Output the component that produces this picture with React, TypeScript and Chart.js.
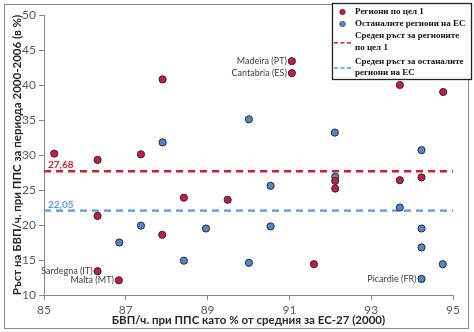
import { useEffect, useRef } from 'react';
import { Chart, registerables } from 'chart.js';

Chart.register(...registerables);

// ---- data ----
const goal1Label = 'Региони по цел 1';
const otherLabel = 'Останалите региони на ЕС';
const goal1MeanLabel = 'Среден ръст за регионите по цел 1';
const otherMeanLabel = 'Среден ръст за останалите региони на ЕС';

const goal1Points = [
  { x: 85.25, y: 30.2 },
  { x: 86.31, y: 29.3 },
  { x: 87.37, y: 30.1 },
  { x: 87.9, y: 40.8 },
  { x: 91.06, y: 43.4 },
  { x: 91.06, y: 41.7 },
  { x: 93.7, y: 40.0 },
  { x: 94.76, y: 39.0 },
  { x: 86.31, y: 21.3 },
  { x: 86.31, y: 13.4 },
  { x: 86.83, y: 12.1 },
  { x: 87.89, y: 18.6 },
  { x: 88.42, y: 23.9 },
  { x: 89.49, y: 23.6 },
  { x: 92.12, y: 26.3 },
  { x: 92.12, y: 25.2 },
  { x: 93.7, y: 26.4 },
  { x: 94.23, y: 26.8 },
  { x: 91.6, y: 14.4 },
];

const otherPoints = [
  { x: 87.9, y: 31.8 },
  { x: 90.01, y: 35.1 },
  { x: 92.11, y: 33.2 },
  { x: 94.23, y: 30.7 },
  { x: 87.37, y: 19.9 },
  { x: 86.84, y: 17.5 },
  { x: 88.42, y: 14.9 },
  { x: 88.96, y: 19.5 },
  { x: 92.12, y: 26.9 },
  { x: 90.54, y: 25.6 },
  { x: 93.7, y: 22.5 },
  { x: 90.54, y: 19.8 },
  { x: 94.23, y: 19.5 },
  { x: 94.23, y: 16.8 },
  { x: 90.01, y: 14.6 },
  { x: 94.75, y: 14.4 },
  { x: 94.23, y: 12.3 },
];

const goal1Mean = 27.68;
const otherMean = 22.05;

const xMin = 85;
const xMax = 95;
const xStep = 2;
const yMin = 10;
const yMax = 50;
const yStep = 5;

// point annotations: dataset index, point index, text
const pointNames = [
  { series: 0, index: 4, text: 'Madeira (PT)' },
  { series: 0, index: 5, text: 'Cantabria (ES)' },
  { series: 0, index: 9, text: 'Sardegna (IT)' },
  { series: 0, index: 10, text: 'Malta (MT)' },
  { series: 1, index: 16, text: 'Picardie (FR)' },
];

const legendLines = [
  ['Региони по цел 1'],
  ['Останалите региони на ЕС'],
  ['Среден ръст за регионите', 'по цел 1'],
  ['Среден ръст за останалите', 'региони на ЕС'],
];

const xTitle = 'БВП/ч. при ППС като % от средния за ЕС-27 (2000)';
const yTitle = 'Ръст на БВП/ч. при ППС за периода 2000-2006 (в %)';

const RED = '#C41E45';
const BLUE = '#5287CC';
const RED_LINE = '#D3202E';
const BLUE_LINE = '#5A98E0';

const decorPlugin = {
  id: 'decor',
  afterDatasetsDraw(chart: any) {
    const ctx = chart.ctx;
    const area = chart.chartArea;
    const ys = chart.scales.y;
    ctx.save();
    // mean value labels
    const means = [
      { v: goal1Mean, c: RED_LINE },
      { v: otherMean, c: BLUE_LINE },
    ];
    ctx.font = 'bold 10px Lato';
    ctx.textAlign = 'left';
    ctx.textBaseline = 'middle';
    means.forEach((m) => {
      ctx.fillStyle = m.c;
      ctx.fillText(m.v.toFixed(2).replace('.', ','), area.left + 4, ys.getPixelForValue(m.v) - 6);
    });
    // point names
    ctx.font = '9px Lato';
    ctx.fillStyle = '#404040';
    ctx.textAlign = 'right';
    pointNames.forEach((p) => {
      const el = chart.getDatasetMeta(p.series).data[p.index];
      if (el) ctx.fillText(p.text, el.x - 5, el.y);
    });
    ctx.restore();
  },
  afterDraw(chart: any) {
    const ctx = chart.ctx;
    ctx.save();
    // outer border
    ctx.strokeStyle = '#8c8c8c';
    ctx.lineWidth = 1;
    ctx.strokeRect(4.5, 4.5, 464, 324);
    // legend box
    const bx = 332.5, by = 3.5, bw = 139, bh = 76;
    ctx.fillStyle = '#ffffff';
    ctx.fillRect(bx, by, bw, bh);
    ctx.strokeStyle = '#222222';
    ctx.lineWidth = 1.3;
    ctx.strokeRect(bx, by, bw, bh);
    const rows = [[12], [24], [36, 47.5], [61.5, 72.5]];
    const ds = chart.data.datasets;
    ctx.font = 'bold 9px "Liberation Serif"';
    ctx.textAlign = 'left';
    ctx.textBaseline = 'middle';
    rows.forEach((r, i) => {
      const d = ds[i];
      const my = (r[0] + r[r.length - 1]) / 2 + (r.length > 1 ? 1 : 0);
      if (d.type === 'line') {
        ctx.strokeStyle = d.borderColor;
        ctx.lineWidth = 1.5;
        ctx.setLineDash([4, 2.5]);
        ctx.beginPath();
        ctx.moveTo(334, my);
        ctx.lineTo(352, my);
        ctx.stroke();
        ctx.setLineDash([]);
      } else {
        ctx.fillStyle = d.backgroundColor;
        ctx.beginPath();
        ctx.arc(342.5, my, 2.8, 0, Math.PI * 2);
        ctx.fill();
        ctx.strokeStyle = '#333';
        ctx.lineWidth = 0.6;
        ctx.stroke();
      }
      ctx.fillStyle = '#111111';
      legendLines[i].forEach((t, k) => ctx.fillText(t, 355, r[k]));
    });
    ctx.restore();
  },
};

export default function App() {
  const ref = useRef<HTMLCanvasElement | null>(null);
  useEffect(() => {
    if (!ref.current) return;
    const chart = new Chart(ref.current, {
      type: 'scatter',
      data: {
        datasets: [
          {
            type: 'scatter',
            label: goal1Label,
            data: goal1Points,
            backgroundColor: RED,
            borderColor: '#2a2a2a',
            borderWidth: 1,
            pointRadius: 3.6,
            order: 0,
          },
          {
            type: 'scatter',
            label: otherLabel,
            data: otherPoints,
            backgroundColor: BLUE,
            borderColor: '#2a2a2a',
            borderWidth: 1,
            pointRadius: 3.6,
            order: 1,
          },
          {
            type: 'line',
            label: goal1MeanLabel,
            data: [
              { x: xMin, y: goal1Mean },
              { x: xMax, y: goal1Mean },
            ],
            borderColor: RED_LINE,
            backgroundColor: RED_LINE,
            borderWidth: 2.5,
            borderDash: [7, 5],
            pointRadius: 0,
            fill: false,
            order: 2,
          },
          {
            type: 'line',
            label: otherMeanLabel,
            data: [
              { x: xMin, y: otherMean },
              { x: xMax, y: otherMean },
            ],
            borderColor: BLUE_LINE,
            backgroundColor: BLUE_LINE,
            borderWidth: 2.2,
            borderDash: [7, 5],
            pointRadius: 0,
            fill: false,
            order: 3,
          },
        ] as any,
      },
      options: {
        responsive: false,
        animation: false,
        devicePixelRatio: 1,
        layout: { padding: { top: 15, right: 21, left: 0, bottom: 0 } },
        plugins: {
          legend: { display: false },
          tooltip: { enabled: false },
        },
        scales: {
          x: {
            type: 'linear',
            min: xMin,
            max: xMax,
            afterFit: (s: any) => {
              s.height = 37;
            },
            ticks: {
              stepSize: xStep,
              color: '#595959',
              font: { family: 'Lato', size: 12 },
              padding: 3,
            },
            grid: {
              display: true,
              drawOnChartArea: false,
              drawTicks: true,
              tickLength: 5,
              color: '#868686',
            },
            border: { color: '#868686', width: 1 },
            title: {
              display: true,
              text: xTitle,
              color: '#262626',
              font: { family: 'Lato', size: 11.5, weight: 'bold' },
              padding: { top: 0, bottom: 5 },
            },
          },
          y: {
            type: 'linear',
            min: yMin,
            max: yMax,
            afterFit: (s: any) => {
              s.width = 44;
            },
            ticks: {
              stepSize: yStep,
              color: '#595959',
              font: { family: 'Lato', size: 12 },
              padding: 3,
            },
            grid: {
              display: true,
              drawOnChartArea: false,
              drawTicks: true,
              tickLength: 5,
              color: '#868686',
            },
            border: { color: '#868686', width: 1 },
            title: {
              display: true,
              text: yTitle,
              color: '#262626',
              font: { family: 'Lato', size: 11.5, weight: 'bold' },
              padding: { top: 10, bottom: 0 },
            },
          },
        },
      } as any,
      plugins: [decorPlugin],
    });
    return () => chart.destroy();
  }, []);
  return (
    <div style={{ position: 'fixed', left: 0, top: 0, width: 474, height: 332, background: '#fff' }}>
      <canvas ref={ref} width={474} height={332} />
    </div>
  );
}
